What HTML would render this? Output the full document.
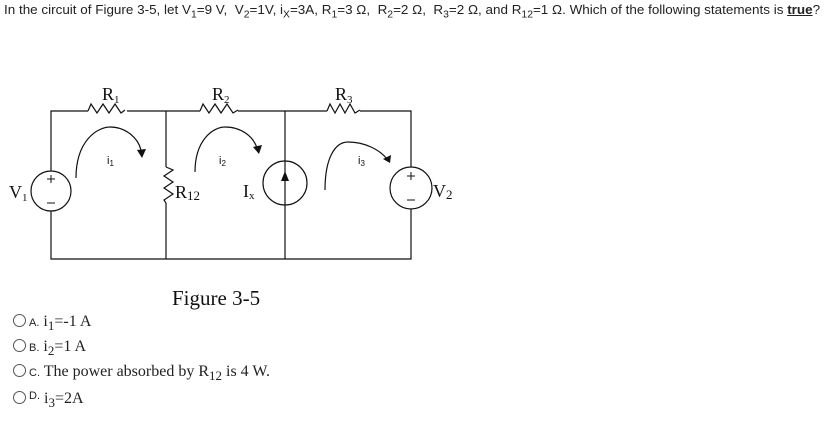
<!DOCTYPE html>
<html><head><meta charset="utf-8"><style>
body{margin:0;background:#fff;width:824px;height:425px;overflow:hidden;position:relative}
.q{position:absolute;left:4px;top:2px;font-family:"Liberation Sans",sans-serif;font-size:13px;color:#222;letter-spacing:0;white-space:nowrap;transform-origin:0 0;transform:scaleX(1.035)}
.q sub{font-size:10px}
.opt{position:absolute;left:13px;font-family:"Liberation Serif",serif;font-size:16px;color:#222;white-space:nowrap}
.opt .r{display:inline-block;width:11px;height:11px;border:1px solid #555;border-radius:50%;vertical-align:-1px;margin-right:3px}
.opt .l{font-family:"Liberation Sans",sans-serif;font-size:11px}
.opt sub{font-size:13px}
</style></head><body>
<div class="q">In the circuit of Figure 3-5, let V<sub>1</sub>=9 V,&nbsp; V<sub>2</sub>=1V, i<sub>X</sub>=3A, R<sub>1</sub>=3 Ω,&nbsp; R<sub>2</sub>=2 Ω,&nbsp; R<sub>3</sub>=2 Ω, and R<sub>12</sub>=1 Ω. Which of the following statements is <b><u>true</u></b>?</div>
<svg width="824" height="425" style="position:absolute;left:0;top:0" font-family="Liberation Serif,serif" fill="none" stroke="#111" stroke-width="1.2">
<path d="M51,171 V111 H88 M127,111 H200 M238,111 H327 M360,111 H411 V167 M411,209 V259 H51 V211 M166,111 V167 M166,203 V259 M285,111 V259"/>
<path d="M88,111 l3,-7 l6,9 l6,-9 l6,9 l6,-9 l6,9 l4,-3"/>
<path d="M200,111 l3,-7 l6,9 l6,-9 l6,9 l6,-9 l6,9 l5,-3"/>
<path d="M327,111 l3,-7 l5,9 l5,-9 l5,9 l5,-9 l5,9 l5,-3"/>
<path d="M166,167 l7,3 l-9,6 l9,6 l-9,6 l9,6 l-9,6 l2,3"/>
<circle cx="51" cy="191" r="20"/>
<circle cx="285" cy="183" r="22"/>
<circle cx="411" cy="188" r="21"/>
<path d="M76,178 C76,140 98,127 110,127 C126,127 138,138 141,150"/>
<path d="M195,172 C195,140 213,127 225,127 C241,127 253,136 257,148"/>
<path d="M325,190 C325,158 335,142 348,142 C365,142 380,150 387,159"/>
<g fill="#111" stroke="none">
<path d="M137,150 L146,149 L142,158Z"/>
<path d="M253,147 L262,145 L259,154Z"/>
<path d="M383,159 L391,155 L390,163Z"/>
<path d="M285,171 L281,181 L289,181Z"/>
</g>
<g stroke-width="1"><path d="M47,179 h8 M51,175 v8 M47,203 h8 M407,176 h8 M411,172 v8 M407,200 h8"/></g>
<g fill="#111" stroke="none" font-size="18">
<text x="102" y="100">R<tspan font-size="11" dy="3">1</tspan></text>
<text x="212" y="100">R<tspan font-size="11" dy="3">2</tspan></text>
<text x="335" y="100">R<tspan font-size="11" dy="3">3</tspan></text>
<text x="9" y="198">V<tspan font-size="11" dy="3">1</tspan></text>
<text x="433" y="197">V<tspan font-size="13" dy="2">2</tspan></text>
<text x="175" y="198">R<tspan font-size="13" dy="2">12</tspan></text>
<text x="243" y="197">I<tspan font-size="11" dy="2">x</tspan></text>
<g font-family="Liberation Sans,sans-serif" font-size="11"><text x="107" y="164">i<tspan font-size="8" dy="2">1</tspan></text>
<text x="219" y="164">i<tspan font-size="8" dy="2">2</tspan></text>
<text x="358" y="164">i<tspan font-size="8" dy="2">3</tspan></text></g>
<text x="172" y="305" font-size="21">Figure 3-5</text>
</g>
</svg>
<div class="opt" style="top:313px"><span class="r"></span><span class="l">A.</span> i<sub>1</sub>=-1 A</div>
<div class="opt" style="top:338px"><span class="r"></span><span class="l">B.</span> i<sub>2</sub>=1 A</div>
<div class="opt" style="top:363px"><span class="r"></span><span class="l">C.</span> The power absorbed by R<sub>12</sub> is 4 W.</div>
<div class="opt" style="top:390px"><span class="r"></span><span class="l" style="vertical-align:4px">D.</span> i<sub>3</sub>=2A</div>
</body></html>
